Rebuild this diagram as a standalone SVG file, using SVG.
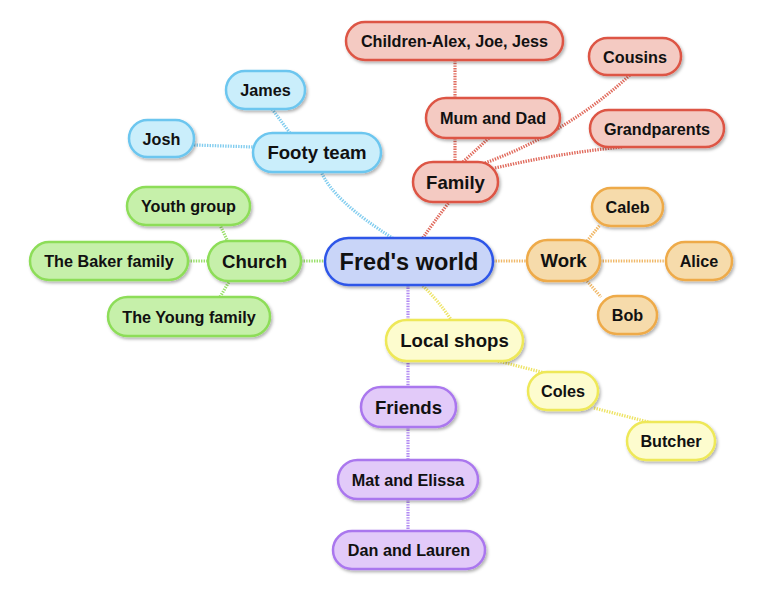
<svg xmlns="http://www.w3.org/2000/svg" width="768" height="589" viewBox="0 0 768 589">
<defs>
<filter id="sh" x="-20%" y="-30%" width="140%" height="170%">
<feDropShadow dx="1.5" dy="2" stdDeviation="1.5" flood-color="#000" flood-opacity="0.3"/>
</filter>
</defs>
<style>
.n rect{stroke-width:2.5;filter:url(#sh)}
.n text{font-family:"Liberation Sans",Arial,sans-serif;font-weight:bold;text-anchor:middle;dominant-baseline:central;fill:#111}
.t1{font-size:23.5px}.t2{font-size:18.6px}.t3{font-size:16.2px}
.red rect{fill:#f4cac2;stroke:#dd5544}
.blue rect{fill:#caeefb;stroke:#6cc6ef}
.green rect{fill:#c6f0aa;stroke:#8ddd58}
.orange rect{fill:#f6dbab;stroke:#eeaa48}
.yellow rect{fill:#fdfcce;stroke:#eee858}
.purple rect{fill:#e2caf9;stroke:#aa77ee}
.center rect{fill:#c9d5f8;stroke:#2f57e8}
#connectors path{fill:none;stroke-width:3.2;stroke-dasharray:1.4 1.2}
.cr{stroke:#e06a5c}.cb{stroke:#82cdef}.cg{stroke:#98e068}.co{stroke:#f0b868}.cy{stroke:#eee466}.cp{stroke:#b088f2}
</style>
<rect width="768" height="589" fill="#fff"/>
<g id="connectors">
<path class="cr" d="M450,201 Q434,222 422,239"/>
<path class="cb" d="M321,171 Q332,200 394,239"/>
<path class="cg" d="M301,261 L326,261"/>
<path class="co" d="M493,261 L528,261"/>
<path class="cp" d="M408,285 L408,388"/>
<path class="cy" d="M421,284 Q438,300 452,321"/>
<path class="cr" d="M455,163 L455,59"/>
<path class="cr" d="M463,162 L490,137"/>
<path class="cr" d="M485,163 Q567,133 630,75"/>
<path class="cr" d="M495,168 Q560,153 622,147"/>
<path class="cb" d="M290,133 L272,109"/>
<path class="cb" d="M194,145 L254,147"/>
<path class="cg" d="M228,242 L220,225"/>
<path class="cg" d="M230,280 L220,297"/>
<path class="cg" d="M188,261 L208,261"/>
<path class="co" d="M587,241 L600,225"/>
<path class="co" d="M600,261 L667,261"/>
<path class="co" d="M587,281 L601,297"/>
<path class="cy" d="M498,361 L545,373"/>
<path class="cy" d="M594,408 L652,423"/>
<path class="cp" d="M408,427 L408,461"/>
<path class="cp" d="M408,499 L408,532"/>
</g>
<g id="freds-world" class="n center"><rect x="325" y="238" width="168" height="47" rx="23.5"/><text class="t1" x="409" y="261.5">Fred's world</text></g>
<g id="family" class="n red"><rect x="413" y="162" width="85" height="40" rx="20"/><text class="t2" x="455.5" y="182">Family</text></g>
<g id="mum-and-dad" class="n red"><rect x="426" y="98" width="134" height="40" rx="20"/><text class="t3" x="493" y="118">Mum and Dad</text></g>
<g id="children" class="n red"><rect x="346" y="22" width="217" height="38" rx="19"/><text class="t3" x="454.5" y="41">Children-Alex, Joe, Jess</text></g>
<g id="cousins" class="n red"><rect x="589" y="38" width="92" height="37" rx="18.5"/><text class="t3" x="635" y="56.5">Cousins</text></g>
<g id="grandparents" class="n red"><rect x="590" y="110" width="134" height="37" rx="18.5"/><text class="t3" x="657" y="128.5">Grandparents</text></g>
<g id="footy-team" class="n blue"><rect x="253" y="133" width="128" height="39" rx="19.5"/><text class="t2" x="317" y="152.5">Footy team</text></g>
<g id="james" class="n blue"><rect x="226" y="71" width="79" height="38" rx="19"/><text class="t3" x="265.5" y="90">James</text></g>
<g id="josh" class="n blue"><rect x="129" y="120" width="65" height="37" rx="18.5"/><text class="t3" x="161.5" y="138.5">Josh</text></g>
<g id="youth-group" class="n green"><rect x="127" y="187" width="123" height="38" rx="19"/><text class="t3" x="188.5" y="206">Youth group</text></g>
<g id="church" class="n green"><rect x="208" y="241" width="93" height="40" rx="20"/><text class="t2" x="254.5" y="261">Church</text></g>
<g id="baker-family" class="n green"><rect x="30" y="242" width="158" height="38" rx="19"/><text class="t3" x="109" y="261">The Baker family</text></g>
<g id="young-family" class="n green"><rect x="108" y="297" width="162" height="39" rx="19.5"/><text class="t3" x="189" y="316.5">The Young family</text></g>
<g id="work" class="n orange"><rect x="527" y="240" width="73" height="41" rx="20.5"/><text class="t2" x="563.5" y="260.5">Work</text></g>
<g id="caleb" class="n orange"><rect x="592" y="188" width="71" height="38" rx="19"/><text class="t3" x="627.5" y="207">Caleb</text></g>
<g id="alice" class="n orange"><rect x="666" y="242" width="66" height="38" rx="19"/><text class="t3" x="699" y="261">Alice</text></g>
<g id="bob" class="n orange"><rect x="598" y="296" width="59" height="38" rx="19"/><text class="t3" x="627.5" y="315">Bob</text></g>
<g id="local-shops" class="n yellow"><rect x="386" y="320" width="137" height="41" rx="20.5"/><text class="t2" x="454.5" y="340.5">Local shops</text></g>
<g id="coles" class="n yellow"><rect x="528" y="372" width="70" height="38" rx="19"/><text class="t3" x="563" y="391">Coles</text></g>
<g id="butcher" class="n yellow"><rect x="627" y="422" width="88" height="38" rx="19"/><text class="t3" x="671" y="441">Butcher</text></g>
<g id="friends" class="n purple"><rect x="361" y="387" width="95" height="40" rx="20"/><text class="t2" x="408.5" y="407">Friends</text></g>
<g id="mat-and-elissa" class="n purple"><rect x="338" y="460" width="140" height="39" rx="19.5"/><text class="t3" x="408" y="479.5">Mat and Elissa</text></g>
<g id="dan-and-lauren" class="n purple"><rect x="333" y="531" width="152" height="38" rx="19"/><text class="t3" x="409" y="550">Dan and Lauren</text></g>
</svg>
